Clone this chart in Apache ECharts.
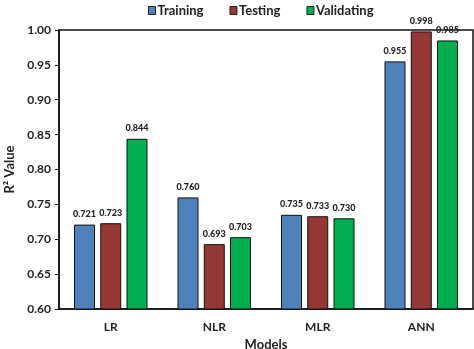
<!DOCTYPE html>
<html><head><meta charset="utf-8">
<script src="https://cdn.jsdelivr.net/npm/echarts@6/dist/echarts.min.js"></script>
<style>html,body{margin:0;padding:0;background:#fff}#c{width:474px;height:349px}</style>
</head><body><div id="c"></div>
<script>
const categories = ['LR', 'NLR', 'MLR', 'ANN'];
const training = [0.721, 0.760, 0.735, 0.955];
const testing = [0.723, 0.693, 0.733, 0.998];
const validating = [0.844, 0.703, 0.730, 0.985];
const seriesNames = ['Training', 'Testing', 'Validating'];
const colors = ['#4F81BD', '#953735', '#00B050'];
const font = 'Lato';
const chart = echarts.init(document.getElementById('c'));
const mk = (name, data, color) => ({
  name, type: 'bar', data, barWidth: 21, barGap: '25%',
  itemStyle: { color, borderColor: '#111', borderWidth: 1 },
  label: { show: true, position: 'top', distance: 6, formatter: p => p.value.toFixed(3),
    fontFamily: font, fontWeight: 900, fontSize: 9, color: '#222' }
});
chart.setOption({
  animation: false,
  textStyle: { fontFamily: font },
  legend: { top: -1, left: 143, itemGap: 26, itemWidth: 7, itemHeight: 8,
    icon: 'rect', textStyle: { fontFamily: font, fontWeight: 'bold', fontSize: 13, color: '#222', padding: [0, 0, 0, -3] },
    data: seriesNames.map((n, i) => ({ name: n, itemStyle: { borderColor: '#222', borderWidth: 1 } })) },
  grid: { left: 59, right: 1, top: 30, bottom: 40, show: true, borderColor: '#111', borderWidth: 1.5, outerBoundsMode: 'none', containLabel: false },
  xAxis: { type: 'category', data: categories, name: 'Models', nameLocation: 'middle', nameGap: 26,
    nameTextStyle: { fontFamily: font, fontWeight: 'bold', fontSize: 13, color: '#222' },
    axisLine: { lineStyle: { color: '#111', width: 1.5 } }, axisTick: { show: false },
    axisLabel: { fontFamily: font, fontWeight: 'bold', fontSize: 12, color: '#222', margin: 12 } },
  yAxis: { type: 'value', min: 0.6, max: 1.0, interval: 0.05, name: 'R² Value', nameLocation: 'middle', nameGap: 43,
    nameTextStyle: { fontFamily: font, fontWeight: 'bold', fontSize: 13, color: '#222' },
    axisLine: { show: true, lineStyle: { color: '#111', width: 1.5 } },
    axisTick: { show: true, length: 4, lineStyle: { color: '#111' } }, splitLine: { show: false },
    axisLabel: { fontFamily: font, fontWeight: 'bold', fontSize: 12, color: '#222', margin: 8, formatter: v => v.toFixed(2) } },
  series: [mk(seriesNames[0], training, colors[0]), mk(seriesNames[1], testing, colors[1]), mk(seriesNames[2], validating, colors[2])]
});
</script></body></html>
